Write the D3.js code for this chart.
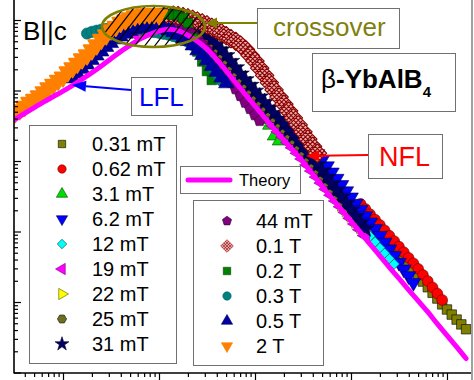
<!DOCTYPE html>
<html><head><meta charset="utf-8">
<script src="https://cdn.jsdelivr.net/npm/d3@7"></script>
<style>
html,body{margin:0;padding:0;background:#fff;}
svg{display:block;font-family:"Liberation Sans",Arial,Helvetica,sans-serif;}
</style></head><body>
<svg id="c" width="474" height="380"></svg>
<script>
// ---------- data (scaled variable on log axes) ----------
const xGrid = [0.00316,0.00355,0.00398,0.00447,0.00501,0.00562,0.00631,0.00708,0.00794,0.00891,
0.0100,0.0112,0.0126,0.0141,0.0158,0.0178,0.0200,0.0224,0.0251,0.0282,
0.0316,0.0355,0.0398,0.0447,0.0501,0.0562,0.0631,0.0708,0.0794,0.0891,
0.100,0.112,0.126,0.141,0.158,0.178,0.200,0.224,0.251,0.282,
0.316,0.355,0.398,0.447,0.501,0.562,0.631,0.708,0.794,0.891,
1.00,1.12,1.26,1.41,1.58,1.78,2.00,2.24,2.51,2.82,
3.16,3.55,3.98,4.47,5.01,5.62,6.31,7.08,7.94,8.91,
10.0,11.2,12.6,14.1,15.8,17.8,20.0,22.4,25.1,28.2,
31.6,35.5,39.8,44.7,50.1,56.2,63.1,70.8,79.4,89.1,
100,112,126,141,158];

const y031mT = [0.0990,0.0828,0.0691,0.0578,0.0481,0.0402,0.0336,0.0281,0.0235,0.0195,0.0162,0.0135,0.0112,0.00925,0.00783,0.00663,0.00563,0.00481,0.00411];
const y062mT = [0.246,0.209,0.176,0.148,0.124,0.104,0.0872,0.0731,0.0611,0.0509,0.0424,0.0354,0.0295,0.0242,0.0198,0.0161,0.0132,0.0107];
const y31mT_ = [6.82,5.65,4.68,3.88,3.21,2.26,1.92];
const y62mT = [2.22,1.84,1.52,1.26,1.04,0.846,0.691,0.563,0.459,0.374,0.306,0.249,0.203,0.166,0.135,0.109,0.0872,0.0700,0.0561,0.0451,0.0362,0.0291,0.0234,0.0188];
const y12mT = [0.340,0.282,0.235,0.200,0.169,0.143,0.121,0.102,0.0858,0.0710,0.0587,0.0490,0.0410,0.0346];
const y19mT = [63.3,71.0,78.8,86.1,92.5,96.8,99.3,99.3,97.4,92.5,86.1,77.5,67.6,57.8,49.6,
42.8,36.0,30.5,25.5,21.0,17.2,14.2,11.8,9.68,8.04,6.65,5.51,4.57,3.78,3.13,2.60,2.18,1.83,1.54,1.29,1.07,0.880,0.721,0.591,0.486,0.398,0.327,0.271,0.225,0.187,0.154,0.128,0.106,0.0878];
const y22mT = [0.242,0.202,0.169,0.139,0.116];
const y25mT = [51.1,44.6,38.0,32.2,26.7,22.0,18.0,14.6,12.2,10.1,8.35,6.92,5.78,4.83,4.03,3.36,2.81,2.35,1.96,1.64,1.35,1.11,0.912,0.750,0.613,0.496,0.401,0.325,0.263,0.212,0.172,0.139,0.113];
const y31mT = [94.9,91.0,86.9,81.4,75.3,68.0,60.1,52.4,44.8,37.9,31.4,26.0,21.1,17.2,14.3,11.9,9.84,8.14,6.80,5.68,4.75,3.95,3.30,2.76,2.31,1.93,1.59,1.31,1.07,0.883,0.721,0.584,0.472,0.383,0.309,0.250,0.202,0.164,0.133,0.109];
const y44mT = [88.6,84.6,79.0,71.4,63.1,54.5,45.8,38.0,31.0,25.3,20.3,16.2,13.0,10.5,8.41,6.76,5.51,4.49,3.72];
const y01T = [112.8,114.7,117.0,115.4,111.7,107.4,102.3,96.8,91.0,85.5,78.8,72.1,65.8,59.9,54.5,49.6,44.2,38.2,31.6,26.2,20.7,16.4,12.9,10.2,8.09,6.39,5.12,4.10,3.26,2.58,2.04,1.61,1.29];
const y02T = [93.7,100,106.7,111.4,115.8,118.9,121.6,122.8,123.6,122.8,121.6,118.5,115.4,107.4,90.7,55.6,35.7,25.8,18.9,14.1];
const y03T = [64.3,68.0,70.5,72.9,74.5,75.0,77.0,77.0,77.0,77.0,75.7,74.5,72.1,70.0,67.6,65.8,63.7,61.9,59.3,56.5,53.4,49.2,44.2,38.2,32.1,26.7,21.1,17.1,13.9];
const y05T = [14.8,17.4,20.2,23.3,26.9,31.2,35.6,41.4,46.9,53.0,58.2,63.7,69.8,74.5,77.0,79.3,79.6,79.6,77.5,75.0,71.2,66.7,61.4,55.9,50.0,43.4,37.0,31.7,26.7,22.1,18.3,15.2,12.6];
const y2T = [4.80,5.30,5.93,6.76,7.45,8.35,9.52,10.9,12.2,13.9,15.5,18.3,20.9,24.2,28.0,31.9,37.5,44.2,53.0,61.3,72.1,80.9,92.2,100,107,114,118,122,122,122,118];

const theoryX = [0.00316,0.00398,0.00501,0.00631,0.00794,0.0100,0.0126,0.0158,0.0200,0.0251,0.0316,0.0398,0.0501,0.0631,0.0794,0.100,0.126,0.158,0.200,0.251,0.316,0.398,0.501,0.631,0.794,1.00,1.26,1.58,2.00,2.51,3.16,3.98,5.01,6.31,7.94,10.0,12.6,15.8,20.0,25.1,31.6,39.8,50.1,63.1,79.4,100,126,158];
const theoryY = [3.88,4.72,5.72,6.90,8.22,9.81,11.8,14.5,17.9,22.3,28.2,35.6,43.8,53.6,62.1,69.8,74.0,70.5,60.9,49.9,38.6,27.6,19.0,12.9,8.78,6.03,4.14,2.85,1.97,1.40,0.974,0.654,0.440,0.297,0.204,0.140,0.0962,0.0660,0.0452,0.0311,0.0216,0.0149,0.0104,0.00723,0.00489,0.00336,0.00231,0.00158];

const legendLeft = ['0.31 mT','0.62 mT','3.1 mT','6.2 mT','12 mT','19 mT','22 mT','25 mT','31 mT'];
const legendRight = ['44 mT','0.1 T','0.2 T','0.3 T','0.5 T','2 T'];

// ---------- symbols ----------
const hexagon = {draw(c,s){const r=Math.sqrt(s/2.598);for(let i=0;i<6;i++){const a=Math.PI/3*i;const px=r*Math.cos(a),py=r*Math.sin(a);i?c.lineTo(px,py):c.moveTo(px,py);}c.closePath();}};
const pentagon = {draw(c,s){const r=Math.sqrt(s/2.378);for(let i=0;i<5;i++){const a=-Math.PI/2+2*Math.PI/5*i;const px=r*Math.cos(a),py=r*Math.sin(a);i?c.lineTo(px,py):c.moveTo(px,py);}c.closePath();}};
const hatchDia = {draw(c,s){const r=Math.sqrt(s/2);c.moveTo(0,-r);c.lineTo(r,0);c.lineTo(0,r);c.lineTo(-r,0);c.closePath();
  for(const k of [-0.5,0,0.5]){const q=k*r;c.moveTo((q+r)/2,(q-r)/2);c.lineTo((q-r)/2,(q+r)/2);c.moveTo((q+r)/2,(r-q)/2);c.lineTo((q-r)/2,-(r+q)/2);}}};

const series = [
 {label:'0.31 mT', from:76, y:y031mT, sym:d3.symbolSquare, rot:0, fill:'#808000', stroke:'#000', sw:0.6, size:90, lsize:55},
 {label:'0.62 mT', from:72, y:y062mT, sym:d3.symbolCircle, rot:0, fill:'#ff0000', stroke:'#600', sw:0.6, size:90, lsize:55},
 {label:'3.1 mT', from:49, y:y31mT_, sym:d3.symbolTriangle, rot:0, fill:'#00dd00', stroke:'#040', sw:0.6, size:80, lsize:55},
 {label:'6.2 mT', from:60, y:y62mT, sym:d3.symbolTriangle, rot:180, fill:'#0000ff', stroke:'#000050', sw:0.6, size:95, lsize:55},
 {label:'12 mT', from:66, y:y12mT, sym:d3.symbolSquare, rot:45, fill:'#00ffff', stroke:'#004444', sw:0.6, size:55, lsize:45},
 {label:'19 mT', from:25, y:y19mT, sym:d3.symbolTriangle, rot:-90, fill:'#ff00ff', stroke:'#800080', sw:0.6, size:90, lsize:55},
 {label:'22 mT', from:68, y:y22mT, sym:d3.symbolTriangle, rot:90, fill:'#ffff00', stroke:'#555500', sw:0.6, size:80, lsize:55},
 {label:'25 mT', from:40, y:y25mT, sym:hexagon, rot:0, fill:'#6e6e1e', stroke:'#111', sw:0.6, size:60, lsize:55},
 {label:'31 mT', from:34, y:y31mT, sym:d3.symbolStar, rot:0, fill:'#000066', stroke:'#000022', sw:0.6, size:95, lsize:60},
 {label:'44 mT', from:33, y:y44mT, sym:pentagon, rot:0, fill:'#800080', stroke:'#300030', sw:0.6, size:85, lsize:55},
 {label:'0.1 T', from:31, y:y01T, sym:hatchDia, rot:0, fill:'#e9a8a8', stroke:'#8b0000', sw:1.1, size:170, lsize:80},
 {label:'0.2 T', from:22, y:y02T, sym:d3.symbolSquare, rot:0, fill:'#008000', stroke:'#004000', sw:0.6, size:90, lsize:55},
 {label:'0.3 T', from:15, y:y03T, sym:d3.symbolCircle, rot:0, fill:'#008080', stroke:'#006060', sw:0.6, size:100, lsize:55},
 {label:'0.5 T', from:12, y:y05T, sym:d3.symbolTriangle, rot:0, fill:'#0000a0', stroke:'#000060', sw:0.6, size:100, lsize:55},
 {label:'2 T', from:0, y:y2T, sym:d3.symbolTriangle, rot:180, fill:'#ff8000', stroke:'#ff8000', sw:2, size:115, lsize:55}
];

// ---------- scales ----------
const svg = d3.select('#c');
const x = d3.scaleLog().domain([0.003087,182.2]).range([14,472]);
const y = d3.scaleLog().domain([0.000984,192.2]).range([373,0]);

const defs = svg.append('defs');
defs.append('clipPath').attr('id','plot').append('rect').attr('x',14).attr('y',0).attr('width',458).attr('height',373);
defs.append('clipPath').attr('id','ell').append('ellipse').attr('cx',153.5).attr('cy',26.5).attr('rx',51.5).attr('ry',20.5);

const gData = svg.append('g').attr('clip-path','url(#plot)');
series.forEach(s=>{
  const pts = s.y.map((v,i)=>[xGrid[s.from+i], v]);
  const p = d3.symbol(s.sym, s.size)();
  gData.append('g').selectAll('path').data(pts).join('path')
    .attr('transform',d=>`translate(${x(d[0])},${y(d[1])}) rotate(${s.rot})`)
    .attr('d',p).attr('fill',s.fill).attr('stroke',s.stroke).attr('stroke-width',s.sw).attr('stroke-linejoin','round');
});

// theory line
const theory = theoryX.map((v,i)=>[v,theoryY[i]]);
gData.append('path').datum(theory)
  .attr('d',d3.line().x(d=>x(d[0])).y(d=>y(d[1])).curve(d3.curveCatmullRom))
  .attr('fill','none').attr('stroke','#ff00ff').attr('stroke-width',5).attr('stroke-linecap','round');

// hatched ellipse
const gH = svg.append('g').attr('clip-path','url(#ell)');
d3.range(80,230,10).forEach(x0=>{
  gH.append('line').attr('x1',x0).attr('y1',52).attr('x2',x0+40).attr('y2',0).attr('stroke','#000').attr('stroke-width',1.2);
});
svg.append('ellipse').attr('cx',153.5).attr('cy',26.5).attr('rx',51.5).attr('ry',20.5)
  .attr('fill','none').attr('stroke','#808000').attr('stroke-width',2.5);

// ---------- axes ----------
const xMaj=[0.01,0.1,1,10,100];
const xMin=x.ticks().filter(v=>!xMaj.some(m=>Math.abs(m-v)/m<1e-6));
const yMaj=[0.001,0.01,0.1,1,10,100];
const yMin=y.ticks().filter(v=>!yMaj.some(m=>Math.abs(m-v)/m<1e-6));
function styleAxis(g){g.select('.domain').remove();g.selectAll('line').attr('stroke','#000').attr('stroke-width',1.2);}
svg.append('g').attr('transform','translate(0,373)').call(d3.axisBottom(x).tickValues(xMaj).tickSize(8).tickFormat('')).call(styleAxis);
svg.append('g').attr('transform','translate(0,373)').call(d3.axisBottom(x).tickValues(xMin).tickSize(4).tickFormat('')).call(styleAxis);
svg.append('g').attr('transform','translate(14,0)').call(d3.axisRight(y).tickValues(yMaj).tickSize(7).tickFormat('')).call(styleAxis);
svg.append('g').attr('transform','translate(14,0)').call(d3.axisRight(y).tickValues(yMin).tickSize(4).tickFormat('')).call(styleAxis);
svg.append('line').attr('x1',14).attr('x2',14).attr('y1',0).attr('y2',373.5).attr('stroke','#000').attr('stroke-width',1.6);
svg.append('line').attr('x1',14).attr('x2',472).attr('y1',373).attr('y2',373).attr('stroke','#000').attr('stroke-width',1.6);
svg.append('line').attr('x1',472).attr('x2',472).attr('y1',0).attr('y2',380).attr('stroke','#a0a0a0').attr('stroke-width',2);

// ---------- annotations ----------
function arrow(x1,y1,x2,y2,color,w,hl,hw){
  const dx=x2-x1,dy=y2-y1,L=Math.hypot(dx,dy),ux=dx/L,uy=dy/L;
  const bx=x2-ux*hl,by=y2-uy*hl;
  svg.append('line').attr('x1',x1).attr('y1',y1).attr('x2',bx).attr('y2',by).attr('stroke',color).attr('stroke-width',w);
  svg.append('path').attr('d',`M${x2},${y2}L${bx-uy*hw},${by+ux*hw}L${bx+uy*hw},${by-ux*hw}Z`).attr('fill',color);
}
function box(x0,y0,w,h){svg.append('rect').attr('x',x0+0.5).attr('y',y0+0.5).attr('width',w).attr('height',h).attr('fill','#fff').attr('stroke','#707070').attr('stroke-width',1);}

arrow(257,23,206,23,'#808000',2,11,5.5);
box(257,8,142,40);
svg.append('text').attr('x',273).attr('y',36).attr('font-size',26).attr('fill','#7f7f0f').text('crossover');

box(312,53,143,58);
const tb = svg.append('text').attr('x',321).attr('y',88).attr('font-size',26).attr('fill','#000');
tb.append('tspan').text('β');
tb.append('tspan').attr('font-weight','bold').text('-YbAlB');
tb.append('tspan').attr('font-weight','bold').attr('font-size',15).attr('dy',9).text('4');

svg.append('text').attr('x',23).attr('y',40).attr('font-size',26).attr('fill','#000').text('B||c');

arrow(131,90,72,85,'#0000ff',2,14,5.5);
box(131,77,61,38);
svg.append('text').attr('x',139).attr('y',106).attr('font-size',26).attr('fill','#0000ff').text('LFL');

arrow(368,155,306,156,'#ff0000',2,13,5.5);
box(368,134,74,44);
svg.append('text').attr('x',379).attr('y',166).attr('font-size',27).attr('fill','#ff0000').text('NFL');

// ---------- legends ----------
box(180,166,120,27);
svg.append('line').attr('x1',188).attr('x2',230).attr('y1',180).attr('y2',180).attr('stroke','#ff00ff').attr('stroke-width',5).attr('stroke-linecap','round');
svg.append('text').attr('x',239).attr('y',186).attr('font-size',16.5).text('Theory');

function legendEntry(s,mx,tx,cy){
  svg.append('path').attr('transform',`translate(${mx},${cy}) rotate(${s.rot})`)
    .attr('d',d3.symbol(s.sym, s.lsize)())
    .attr('fill',s.fill).attr('stroke',s.stroke).attr('stroke-width',0.6);
  svg.append('text').attr('x',tx).attr('y',cy+7).attr('font-size',20).attr('fill','#000').text(s.label);
}
box(29,125,147,238);
legendLeft.forEach((lab,i)=>legendEntry(series.find(s=>s.label===lab),62,92,144+25*i));
box(193,200,130,165);
legendRight.forEach((lab,i)=>legendEntry(series.find(s=>s.label===lab),227,256,221+25*i));
</script>
</body></html>
